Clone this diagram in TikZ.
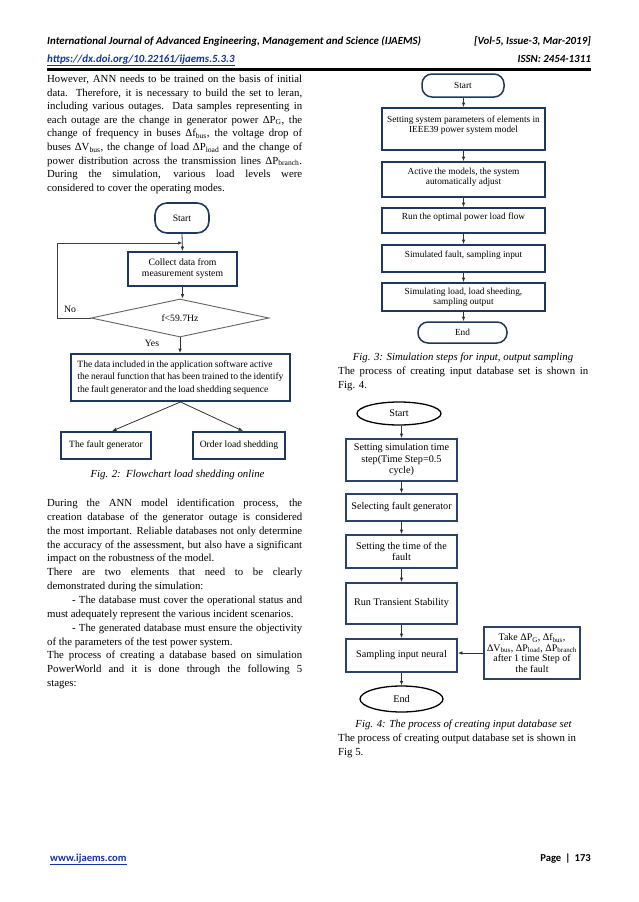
\documentclass[tikz,border=0pt]{standalone}
\usepackage{fontspec}
\setmainfont{Liberation Serif}
\newfontfamily\hdrfont{Carlito}
\usetikzlibrary{arrows.meta,shapes.geometric}
\definecolor{navy}{RGB}{32,56,94}
\definecolor{navyf}{RGB}{44,66,104}
\definecolor{linkblue}{RGB}{20,50,170}
\definecolor{diagray}{RGB}{100,100,100}
\newcommand\sbs[1]{\textsubscript{#1}}
\newcommand\LJ[3]{\node[body] (#1) at (47,#2) {\makebox[255pt][s]{#3}};}
\newcommand\LN[3]{\node[body] (#1) at (47,#2) {#3};}
\newcommand\LI[3]{\node[body] (#1) at (72,#2) {\makebox[230pt][s]{#3}};}
\newcommand\RJ[3]{\node[body] (#1) at (338,#2) {\makebox[250pt][s]{#3}};}
\newcommand\RN[3]{\node[body] (#1) at (338,#2) {#3};}
\tikzset{
 body/.style={inner sep=0pt,anchor=base west,font=\fontsize{10.8}{13}\selectfont},
 capt/.style={inner sep=0pt,anchor=base,font=\fontsize{10.8}{13}\selectfont\itshape},
 hdr/.style={inner sep=0pt,font=\hdrfont\bfseries\itshape\fontsize{10.9}{12}\selectfont},
 ftr/.style={inner sep=0pt,font=\hdrfont\bfseries\fontsize{10.6}{12}\selectfont},
 ftwo/.style={font=\fontsize{9.7}{11}\selectfont,align=center},
 box2/.style={draw=navy,line width=1.9pt,inner sep=0pt,ftwo},
 term2/.style={draw=navy,line width=1.6pt,rounded corners=12pt,inner sep=0pt,ftwo},
 dia2/.style={diamond,draw=diagray,line width=0.9pt,inner sep=0pt,ftwo},
 lbl/.style={inner sep=0pt,font=\fontsize{9.7}{11}\selectfont},
 arr/.style={draw=black!80,line width=0.8pt,-{Latex[length=4.5pt,width=3.6pt]}},
 box3/.style={draw=navy,line width=1.6pt,minimum width=163pt,inner sep=0pt},
 term3/.style={draw=navy,line width=1.5pt,inner sep=0pt,rounded corners=10pt,font=\fontsize{9.3}{10.3}\selectfont},
 tthree/.style={inner sep=0pt,align=center,font=\fontsize{9.3}{10.4}\selectfont},
 box4/.style={draw=navyf,line width=1.8pt,minimum width=111pt,inner sep=0pt,align=center,font=\fontsize{10.2}{11.5}\selectfont},
 ell4/.style={ellipse,draw=black,line width=1.3pt,inner sep=0pt,font=\fontsize{10.2}{11.5}\selectfont},
 side4/.style={draw=navyf,line width=1.8pt,minimum width=96pt,minimum height=52pt,inner sep=0pt,align=center,font=\fontsize{10}{10.6}\selectfont},
}
\begin{document}
\begin{tikzpicture}[x=1pt,y=-1pt]
\useasboundingbox[fill=white] (0,0) rectangle (638,902);
% header
\node[hdr,anchor=base west] (h1) at (47,44) {International Journal of Advanced Engineering, Management and Science (IJAEMS)};
\node[hdr,anchor=base east] (h2) at (591,44) {[Vol-5, Issue-3, Mar-2019]};
\node[hdr,anchor=base west,text=linkblue] (h3) at (47,62) {\underline{https://dx.doi.org/10.22161/ijaems.5.3.3}};
\node[hdr,anchor=base east] (h4) at (591,62) {ISSN: 2454-1311};
\draw[line width=2.8pt] (47,69.8) -- (591,69.8);
% footer
\node[ftr,anchor=base west,text=linkblue] (f1) at (50,861) {\underline{www.ijaems.com}};
\node[ftr,anchor=base east] (f2) at (591,861) {Page \,|\, 173};
% left column paragraph 1
\LJ{a1}{82.5}{However, ANN needs to be trained on the basis of initial}
\LJ{a2}{96.1}{data. Therefore, it is necessary to build the set to leran,}
\LJ{a3}{109.7}{including various outages. Data samples representing in}
\LJ{a4}{123.3}{each outage are the change in generator power ΔP\sbs{G}, the}
\LJ{a5}{136.9}{change of frequency in buses Δf\sbs{bus}, the voltage drop of}
\LJ{a6}{150.5}{buses ΔV\sbs{bus}, the change of load ΔP\sbs{load} and the change of}
\LJ{a7}{164.1}{power distribution across the transmission lines ΔP\sbs{branch}.}
\LJ{a8}{177.7}{During the simulation, various load levels were}
\LN{a9}{191.3}{considered to cover the operating modes.}
% Fig 2
\node[term2,minimum width=54pt,minimum height=30pt] (s2) at (182,218) {Start};
\node[box2,minimum width=109pt,minimum height=34pt] (c2) at (182.5,269) {Collect data from\\measurement system};
\node[dia2,minimum width=178pt,minimum height=38pt,aspect=4.7] (d2) at (180,318) {f<59.7Hz};
\node[box2,minimum width=219pt,minimum height=47pt,align=left,font=\fontsize{9.6}{12.5}\selectfont] (bb) at (180.5,377.5)
  {\spaceskip=0.2em plus 0.1em The data included in the application software active\\
   \spaceskip=0.2em plus 0.1em the neraul function that has been trained to the identify\\
   \spaceskip=0.2em plus 0.1em the fault generator and the load shedding sequence};
\node[box2,minimum width=90pt,minimum height=27pt,font=\fontsize{9.6}{11}\selectfont] (fg) at (106,445.5) {The fault generator};
\node[box2,minimum width=92pt,minimum height=27pt,font=\fontsize{9.6}{11}\selectfont] (ol) at (239,445.5) {Order load shedding};
\coordinate (lp) at (182.5,243);
\draw[arr] (s2.south) -- (c2.north);
\draw[draw=black!75,line width=0.9pt,-{Latex[length=4.5pt,width=3.6pt]}] (d2.west) -- ++(-33,0) |- (lp);
\draw[arr] (c2.south) -- (c2.south |- d2.north);
\draw[arr] (d2.south) -- (d2.south |- bb.north);
\draw[arr] (bb.south) -- ([xshift=6pt]fg.north);
\draw[arr] (bb.south) -- ([xshift=4pt]ol.north);
\node[lbl] (no) at (70,309) {No};
\node[lbl] (yes) at (152,343) {Yes};
\node[capt] (cap2) at (177.5,477.5) {Fig. 2:\ \ Flowchart load shedding online};
% left column paragraph 2
\LJ{b1}{506.5}{During the ANN model identification process, the}
\LJ{b2}{520.35}{creation database of the generator outage is considered}
\LJ{b3}{534.2}{the most important. Reliable databases not only determine}
\LJ{b4}{548.05}{the accuracy of the assessment, but also have a significant}
\LN{b5}{561.9}{impact on the robustness of the model.}
\LJ{b6}{575.75}{There are two elements that need to be clearly}
\LN{b7}{589.6}{demonstrated during the simulation:}
\LI{b8}{603.45}{- The database must cover the operational status and}
\LN{b9}{617.3}{must adequately represent the various incident scenarios.}
\LI{b10}{631.15}{- The generated database must ensure the objectivity}
\LN{b11}{645.0}{of the parameters of the test power system.}
\LJ{b12}{658.85}{The process of creating a database based on simulation}
\LJ{b13}{672.7}{PowerWorld and it is done through the following 5}
\LN{b14}{686.55}{stages:}
% Fig 3
\node[term3,minimum width=82pt,minimum height=23pt] (s3) at (463,85.5) {Start};
\node[box3,minimum height=42pt] (b31) at (463.5,129) {};
\node[box3,minimum height=35pt] (b32) at (463.5,179.5) {};
\node[box3,minimum height=25pt] (b33) at (463.5,220.5) {};
\node[box3,minimum height=27pt] (b34) at (463.5,258.5) {};
\node[box3,minimum height=28pt] (b35) at (463.5,297) {};
\node[term3,minimum width=89pt,minimum height=21pt] (e3) at (462.5,332.5) {End};
\node[tthree] (t31) at (463.5,125.5) {Setting system parameters of elements in\\IEEE39 power system model};
\node[tthree] (t32) at (463.5,177) {Active the models, the system\\automatically adjust};
\node[tthree] (t33) at (463.5,217.5) {Run the optimal power load flow};
\node[tthree] (t34) at (463.5,255.5) {Simulated fault, sampling input};
\node[tthree] (t35) at (463.5,297) {Simulating load, load sheeding,\\sampling output};
\draw[arr] (s3.south -| b31.north) -- (b31.north);
\draw[arr] (b31.south) -- (b32.north);
\draw[arr] (b32.south) -- (b33.north);
\draw[arr] (b33.south) -- (b34.north);
\draw[arr] (b34.south) -- (b35.north);
\draw[arr] (b35.south) -- (b35.south |- e3.north);
\node[capt] (cap3) at (463,360.5) {Fig. 3: Simulation steps for input, output sampling};
\RJ{r1}{374.5}{The process of creating input database set is shown in}
\RN{r2}{388.5}{Fig. 4.}
% Fig 4
\node[ell4,minimum width=84pt,minimum height=23pt] (s4) at (399,413.5) {Start};
\node[box4,minimum height=42pt] (b41) at (401.5,460) {Setting simulation time\\step(Time Step=0.5\\cycle)};
\node[box4,minimum height=27pt] (b42) at (401.5,507.5) {Selecting fault generator};
\node[box4,minimum height=33pt] (b43) at (401.5,551.5) {Setting the time of the\\fault};
\node[box4,minimum height=41pt] (b44) at (401.5,603.5) {Run Transient Stability};
\node[box4,minimum height=33pt] (b45) at (401.5,655.5) {Sampling input neural};
\node[ell4,minimum width=83pt,minimum height=26pt] (e4) at (401.5,699) {End};
\node[side4] (sd) at (532,653) {Take ΔP\sbs{G}, Δf\sbs{bus},\\ΔV\sbs{bus}, ΔP\sbs{load}, ΔP\sbs{branch}\\after 1 time Step of\\the fault};
\draw[arr] (b41.north |- s4.south) -- (b41.north);
\draw[arr] (b41.south) -- (b42.north);
\draw[arr] (b42.south) -- (b43.north);
\draw[arr] (b43.south) -- (b44.north);
\draw[arr] (b44.south) -- (b45.north);
\draw[arr] (b45.south) -- (b45.south |- e4.north);
\draw[arr] (sd.west) -- (sd.west -| b45.east);
\node[capt] (cap4) at (463.5,727.5) {Fig. 4: The process of creating input database set};
\RN{r3}{741.5}{The process of creating output database set is shown in}
\RN{r4}{755.5}{Fig 5.}
\end{tikzpicture}
\end{document}
